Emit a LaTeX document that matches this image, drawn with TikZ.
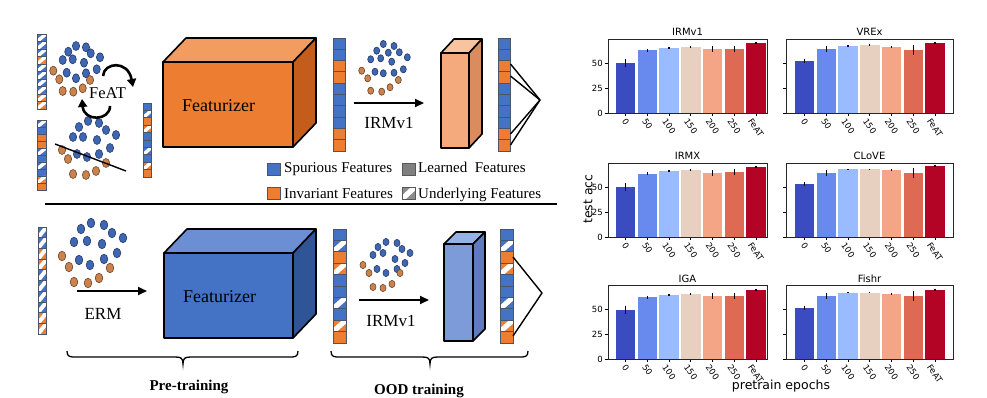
\documentclass[tikz,border=0pt]{standalone}
\usepackage{fontspec}
\setmainfont{Liberation Serif}
\newfontfamily\chartfont{DejaVu Sans}
\usetikzlibrary{arrows.meta}
\definecolor{cb}{RGB}{68,114,196}
\definecolor{co}{RGB}{237,125,49}
\definecolor{cellline}{RGB}{75,85,105}
\definecolor{dotblue}{RGB}{62,102,178}
\definecolor{dotblueline}{RGB}{38,58,105}
\definecolor{dotorange}{RGB}{204,130,76}
\definecolor{dotorangeline}{RGB}{105,68,40}
\definecolor{orFront}{RGB}{237,125,49}
\definecolor{orTop}{RGB}{242,156,96}
\definecolor{orSide}{RGB}{196,92,28}
\definecolor{lorFront}{RGB}{244,170,125}
\definecolor{lorTop}{RGB}{248,196,160}
\definecolor{lorSide}{RGB}{218,140,95}
\definecolor{blFront}{RGB}{68,114,196}
\definecolor{blTop}{RGB}{108,142,210}
\definecolor{blSide}{RGB}{47,85,151}
\definecolor{lblFront}{RGB}{125,155,216}
\definecolor{lblTop}{RGB}{150,178,228}
\definecolor{lblSide}{RGB}{92,124,190}
\definecolor{bar0}{RGB}{59,76,192}
\definecolor{bar1}{RGB}{104,138,239}
\definecolor{bar2}{RGB}{154,187,255}
\definecolor{bar3}{RGB}{232,208,193}
\definecolor{bar4}{RGB}{244,165,133}
\definecolor{bar5}{RGB}{222,106,83}
\definecolor{bar6}{RGB}{180,4,38}
\tikzset{
  lbl/.style={inner sep=0pt, font=\fontsize{17}{19}\selectfont},
  bigl/.style={inner sep=0pt, font=\fontsize{18}{20}\selectfont},
  legtxt/.style={inner sep=0pt, anchor=base west, font=\fontsize{15}{17}\selectfont},
  bracetxt/.style={inner sep=0pt, anchor=base, font=\bfseries\fontsize{15}{17}\selectfont},
  flow/.style={line width=2pt, -{Triangle[length=9pt,width=8pt]}},
  loopar/.style={line width=2.6pt, -{Triangle[length=8pt,width=9pt]}},
  edge/.style={line width=1.4pt},
  dotB/.style={fill=dotblue, draw=dotblueline, line width=0.6pt},
  dotO/.style={fill=dotorange, draw=dotorangeline, line width=0.6pt},
  boxline/.style={draw=black, line width=1.6pt, line join=round},
  axisbox/.style={draw=black!85, line width=0.9pt},
  charttitle/.style={inner sep=0pt, anchor=base, font=\chartfont\fontsize{10}{11}\selectfont},
  ticklbl/.style={inner sep=0pt, font=\chartfont\fontsize{8.5}{9.5}\selectfont},
  axlbl/.style={inner sep=0pt, font=\chartfont\fontsize{12.5}{14}\selectfont},
  bracepath/.style={line width=1.3pt}
}
% vector of feature cells: #1 x0, #2 y0, #3 width, #4 cell height, #5 list colour/hatch
\newcommand{\featvec}[5]{%
  \foreach \col/\hh [count=\i from 0] in {#5}{%
    \pgfmathsetmacro{\ya}{#2+\i*#4}%
    \pgfmathsetmacro{\yb}{#2+(\i+1)*#4}%
    \fill[\col] (#1,\ya) rectangle (#1+#3,\yb);
    \ifnum\hh=1
      \fill[white] (#1,\yb) -- (#1+0.3*#3,\yb) -- (#1+#3,\ya+0.3*#4) -- (#1+#3,\ya) -- (#1+0.7*#3,\ya) -- (#1,\yb-0.3*#4) -- cycle;
    \fi
    \draw[cellline, line width=0.8pt] (#1,\ya) rectangle (#1+#3,\yb);
  }%
}
% chart panel: #1 name, #2 title, #3 left, #4 right, #5 bottom, #6 bar start, #7 data, #8 show y labels (1/0)
\newcommand{\chartpanel}[8]{%
  \foreach \v/\e/\lab [count=\i from 0] in {#7}{%
    \pgfmathsetmacro{\bx}{#6+\i*21.7}%
    \pgfmathsetmacro{\cx}{\bx+9.7}%
    \fill[bar\i] (\bx,#5) rectangle (\bx+19.4,#5-\v);
    \draw[line width=1.3pt] (\cx,#5-\v-\e) -- (\cx,#5-\v+\e);
    \draw[line width=0.7pt] (\cx,#5) -- (\cx,#5+3);
    \node[ticklbl, anchor=north] (#1l\i) at (\cx,#5+4.5) {\rotatebox{-55}{\lab}};
  }
  \draw[axisbox] (#3,#5-74) rectangle (#4,#5);
  \foreach \t in {0,25,50}{%
    \draw[line width=0.7pt] (#3-3.5,#5-\t) -- (#3,#5-\t);
    \ifnum#8=1
      \node[ticklbl, anchor=east] (#1y\t) at (#3-5,#5-\t) {\t};
    \fi
  }
  \pgfmathsetmacro{\tx}{(#3+#4)/2}%
  \node[charttitle] (#1) at (\tx,#5-77) {#2};
}
\begin{document}
\begin{tikzpicture}[x=1pt,y=-1pt]
\useasboundingbox (0,0) rectangle (987,398);
\fill[white] (0,0) rectangle (987,398);

% ---------------- top row: FeAT pre-training ----------------
\featvec{37}{34}{9}{7.5}{cb/1,cb/1,cb/1,co/1,cb/1,cb/1,cb/1,cb/1,co/1,co/1}
\featvec{37}{120}{9}{7}{cb/1,cb/0,co/0,co/0,cb/1,cb/0,cb/1,cb/0,co/1,co/0}
\featvec{143}{103}{8.5}{7.4}{cb/0,cb/1,co/0,co/1,cb/0,cb/0,cb/1,cb/0,co/1,co/0}

\foreach \x/\y in {76/46,86/47.3,68.3/51.7,90.7/53.3,100/57.3,62.7/60,72.7/59.3,84/62.7,96.7/69.3,66.7/72.7,76/78.3,86/73.3}
  \filldraw[dotB] (\x,\y) ellipse (3.6 and 4.5);
\foreach \x/\y in {53.3/70.7,59.3/79.3,62.7/91,73.3/91.7,82.7/88.3,90/80}
  \filldraw[dotO] (\x,\y) ellipse (3.6 and 4.5);
\foreach \x/\y in {88/121,79/127,99/123,106/130,73/137,83/137,97/140,116/135,110/148,77/154,87/157,99/154}
  \filldraw[dotB] (\x,\y) ellipse (3.6 and 4.5);
\foreach \x/\y in {62/150,68/159,106/163,73/174,86/175,96/171}
  \filldraw[dotO] (\x,\y) ellipse (3.6 and 4.5);
\coordinate (sepA) at (55,144);
\coordinate (sepB) at (126,171);
\draw[edge] (sepA) -- (sepB);

\node[lbl, font=\fontsize{16.5}{18}\selectfont] (feat) at (107.5,93) {FeAT};
\coordinate (la1) at (103,76);
\coordinate (la2) at (133,87);
\coordinate (lb1) at (110,106);
\coordinate (lb2) at (82,99);
\draw[loopar] (la1) .. controls (104,62) and (128,60) .. (la2);
\draw[loopar] (lb1) .. controls (110,121) and (84,122) .. (lb2);

% orange featurizer
\filldraw[boxline, fill=orTop] (163,62) -- (186,38) -- (316,38) -- (293,62) -- cycle;
\filldraw[boxline, fill=orSide] (293,62) -- (316,38) -- (316,123) -- (293,147) -- cycle;
\filldraw[boxline, fill=orFront] (163,62) rectangle (293,147);
\node[bigl] (fz1) at (218.5,106) {Featurizer};

\featvec{333}{38}{12}{11.3}{cb/0,cb/0,co/0,co/0,cb/0,cb/0,cb/0,cb/0,co/0,co/0}
\foreach \x/\y in {383.3/44,394/46,376.7/50.7,399.3/52.3,388.3/52.7,407.3/57.3,370.7/59.3,380.7/58.3,391.7/61.7,403.3/69.3,375/71.7,383.3/73.3,394/72.7}
  \filldraw[dotB] (\x,\y) ellipse (3 and 3.6);
\foreach \x/\y in {361.7/70.7,367.7/78.3,370.7/90.7,381.7/91.7,390/87.3,398.3/80}
  \filldraw[dotO] (\x,\y) ellipse (3 and 3.6);
\coordinate (ar1s) at (354,103);
\coordinate (ar1e) at (424,103);
\draw[flow] (ar1s) -- (ar1e);
\node[lbl] (irm1) at (389,122.5) {IRMv1};

% thin orange classifier
\filldraw[boxline, fill=lorTop] (441,53) -- (454,39) -- (482,39) -- (469,53) -- cycle;
\filldraw[boxline, fill=lorSide] (469,53) -- (482,39) -- (482,134) -- (469,148) -- cycle;
\filldraw[boxline, fill=lorFront] (441,53) rectangle (469,148);

\featvec{498}{38}{12.5}{11.3}{cb/0,cb/0,co/0,co/0,cb/0,cb/0,cb/0,cb/0,co/0,co/0}
\coordinate (eo) at (540,100);
\coordinate (e2) at (510.5,64);
\coordinate (e3) at (510.5,76);
\coordinate (e8) at (510.5,134);
\coordinate (e9) at (510.5,145);
\draw[edge] (e2) -- (eo);
\draw[edge] (e3) -- (eo);
\draw[edge] (e8) -- (eo);
\draw[edge] (e9) -- (eo);

% legend
\filldraw[fill=cb, draw=cellline, line width=0.8pt] (267,163) rectangle (280,175);
\node[legtxt] (lg1) at (284,173) {Spurious Features};
\filldraw[fill=black!50, draw=black!65, line width=0.8pt] (402,163) rectangle (415,175);
\node[legtxt] (lg2) at (418,173) {Learned\ \ Features};
\filldraw[fill=co, draw=cellline, line width=0.8pt] (267,187) rectangle (280,199);
\node[legtxt] (lg3) at (284,198) {Invariant Features};
\fill[black!45] (402,187) rectangle (415,199);
\fill[white] (402,199) -- (405.9,199) -- (415,190.6) -- (415,187) -- (411.1,187) -- (402,195.4) -- cycle;
\draw[black!65, line width=0.8pt] (402,187) rectangle (415,199);
\node[legtxt] (lg4) at (418,198) {Underlying Features};

% separator
\coordinate (sepL) at (45,204);
\coordinate (sepR) at (557,204);
\draw[line width=1.6pt] (sepL) -- (sepR);

% ---------------- bottom row: ERM + OOD ----------------
\featvec{38}{227}{8.5}{10.7}{cb/1,cb/1,co/1,co/1,cb/1,cb/1,cb/1,cb/1,co/1,co/1}
\foreach \x/\y in {91/223,81/229,104/225,112/233,123/238,74/242,87/241,102/244,117/253,79/260,90/265,104/259}
  \filldraw[dotB] (\x,\y) ellipse (3.8 and 4.8);
\foreach \x/\y in {62/256,69/267,110/268,74/282,88/283,99/278}
  \filldraw[dotO] (\x,\y) ellipse (3.8 and 4.8);
\coordinate (ar2s) at (77,291);
\coordinate (ar2e) at (147,291);
\draw[flow] (ar2s) -- (ar2e);
\node[lbl] (erm) at (103,314) {ERM};

% blue featurizer
\filldraw[boxline, fill=blTop] (164,253) -- (187,229) -- (316,229) -- (293,253) -- cycle;
\filldraw[boxline, fill=blSide] (293,253) -- (316,229) -- (316,314) -- (293,338) -- cycle;
\filldraw[boxline, fill=blFront] (164,253) rectangle (293,338);
\node[bigl] (fz2) at (219.5,297) {Featurizer};

\featvec{333}{229}{13}{11.4}{cb/0,cb/1,co/0,co/1,cb/0,cb/0,cb/1,cb/0,co/1,co/0}
\foreach \x/\y in {386/242,378/247,397/243,402/249,410/253,373/255,383/253,395/259,405/263,377/269,386/273,397/269}
  \filldraw[dotB] (\x,\y) ellipse (3 and 3.6);
\foreach \x/\y in {363/265,369/273,373/287,383/288,392/284,400/273}
  \filldraw[dotO] (\x,\y) ellipse (3 and 3.6);
\coordinate (ar3s) at (359,300);
\coordinate (ar3e) at (429,300);
\draw[flow] (ar3s) -- (ar3e);
\node[lbl] (irm2) at (391,321) {IRMv1};

% thin blue classifier
\filldraw[boxline, fill=lblTop] (444,244) -- (456,232) -- (485,232) -- (473,244) -- cycle;
\filldraw[boxline, fill=lblSide] (473,244) -- (485,232) -- (485,329) -- (473,341) -- cycle;
\filldraw[boxline, fill=lblFront] (444,244) rectangle (473,341);

\featvec{500}{229}{13}{11.4}{cb/0,cb/1,co/0,co/1,cb/0,cb/0,cb/1,cb/0,co/1,co/0}
\coordinate (ho) at (542,293);
\coordinate (h2) at (513,257);
\coordinate (h9) at (513,336);
\draw[edge] (h2) -- (ho);
\draw[edge] (h9) -- (ho);

% braces
\draw[bracepath] (67,351) .. controls (67,357) and (70,357) .. (76,357) -- (175,357) .. controls (181,357) and (183,358) .. (183,364) .. controls (183,358) and (185,357) .. (191,357) -- (289,357) .. controls (295,357) and (298,357) .. (298,351);
\node[bracetxt] (pre) at (189,390) {Pre-training};
\draw[bracepath] (331,351) .. controls (331,357) and (334,357) .. (340,357) -- (422,357) .. controls (428,357) and (430,358) .. (430,364) .. controls (430,358) and (432,357) .. (438,357) -- (519,357) .. controls (525,357) and (528,357) .. (528,351);
\node[bracetxt] (ood) at (419,394) {OOD training};

% ---------------- charts ----------------
\chartpanel{cA}{IRMv1}{608}{767}{113}{616}{50/4/0,62.5/1.5/50,65/1/100,66/1/150,63.5/3/200,64/3/250,69.5/1/FeAT}{1}
\chartpanel{cB}{VREx}{786}{953}{113}{795}{52/2/0,64/3/50,67/0.6/100,68/0.6/150,66/1/200,63/5/250,70/1/FeAT}{0}
\chartpanel{cC}{IRMX}{608}{767}{237}{616}{50/4/0,63/1.5/50,65.5/1/100,66.5/1/150,63.5/3/200,64.5/3/250,70/1/FeAT}{1}
\chartpanel{cD}{CLoVE}{786}{953}{237}{795}{52.5/2/0,64/3/50,67.5/0.6/100,67.5/0.6/150,66.5/1/200,63.5/5/250,70.5/1/FeAT}{0}
\chartpanel{cE}{IGA}{608}{767}{359}{616}{49.5/4/0,62/1.5/50,64.5/1/100,65.5/1/150,63/3/200,63.5/3/250,69/1/FeAT}{1}
\chartpanel{cF}{Fishr}{786}{953}{359}{795}{51.5/2/0,63.5/3/50,66.5/0.6/100,66.5/0.6/150,65.5/1/200,63/5/250,69.5/1/FeAT}{0}
\node[axlbl, rotate=90] (ylab) at (588,199) {test acc};
\node[axlbl] (xlab) at (781,386) {pretrain epochs};
\end{tikzpicture}
\end{document}
